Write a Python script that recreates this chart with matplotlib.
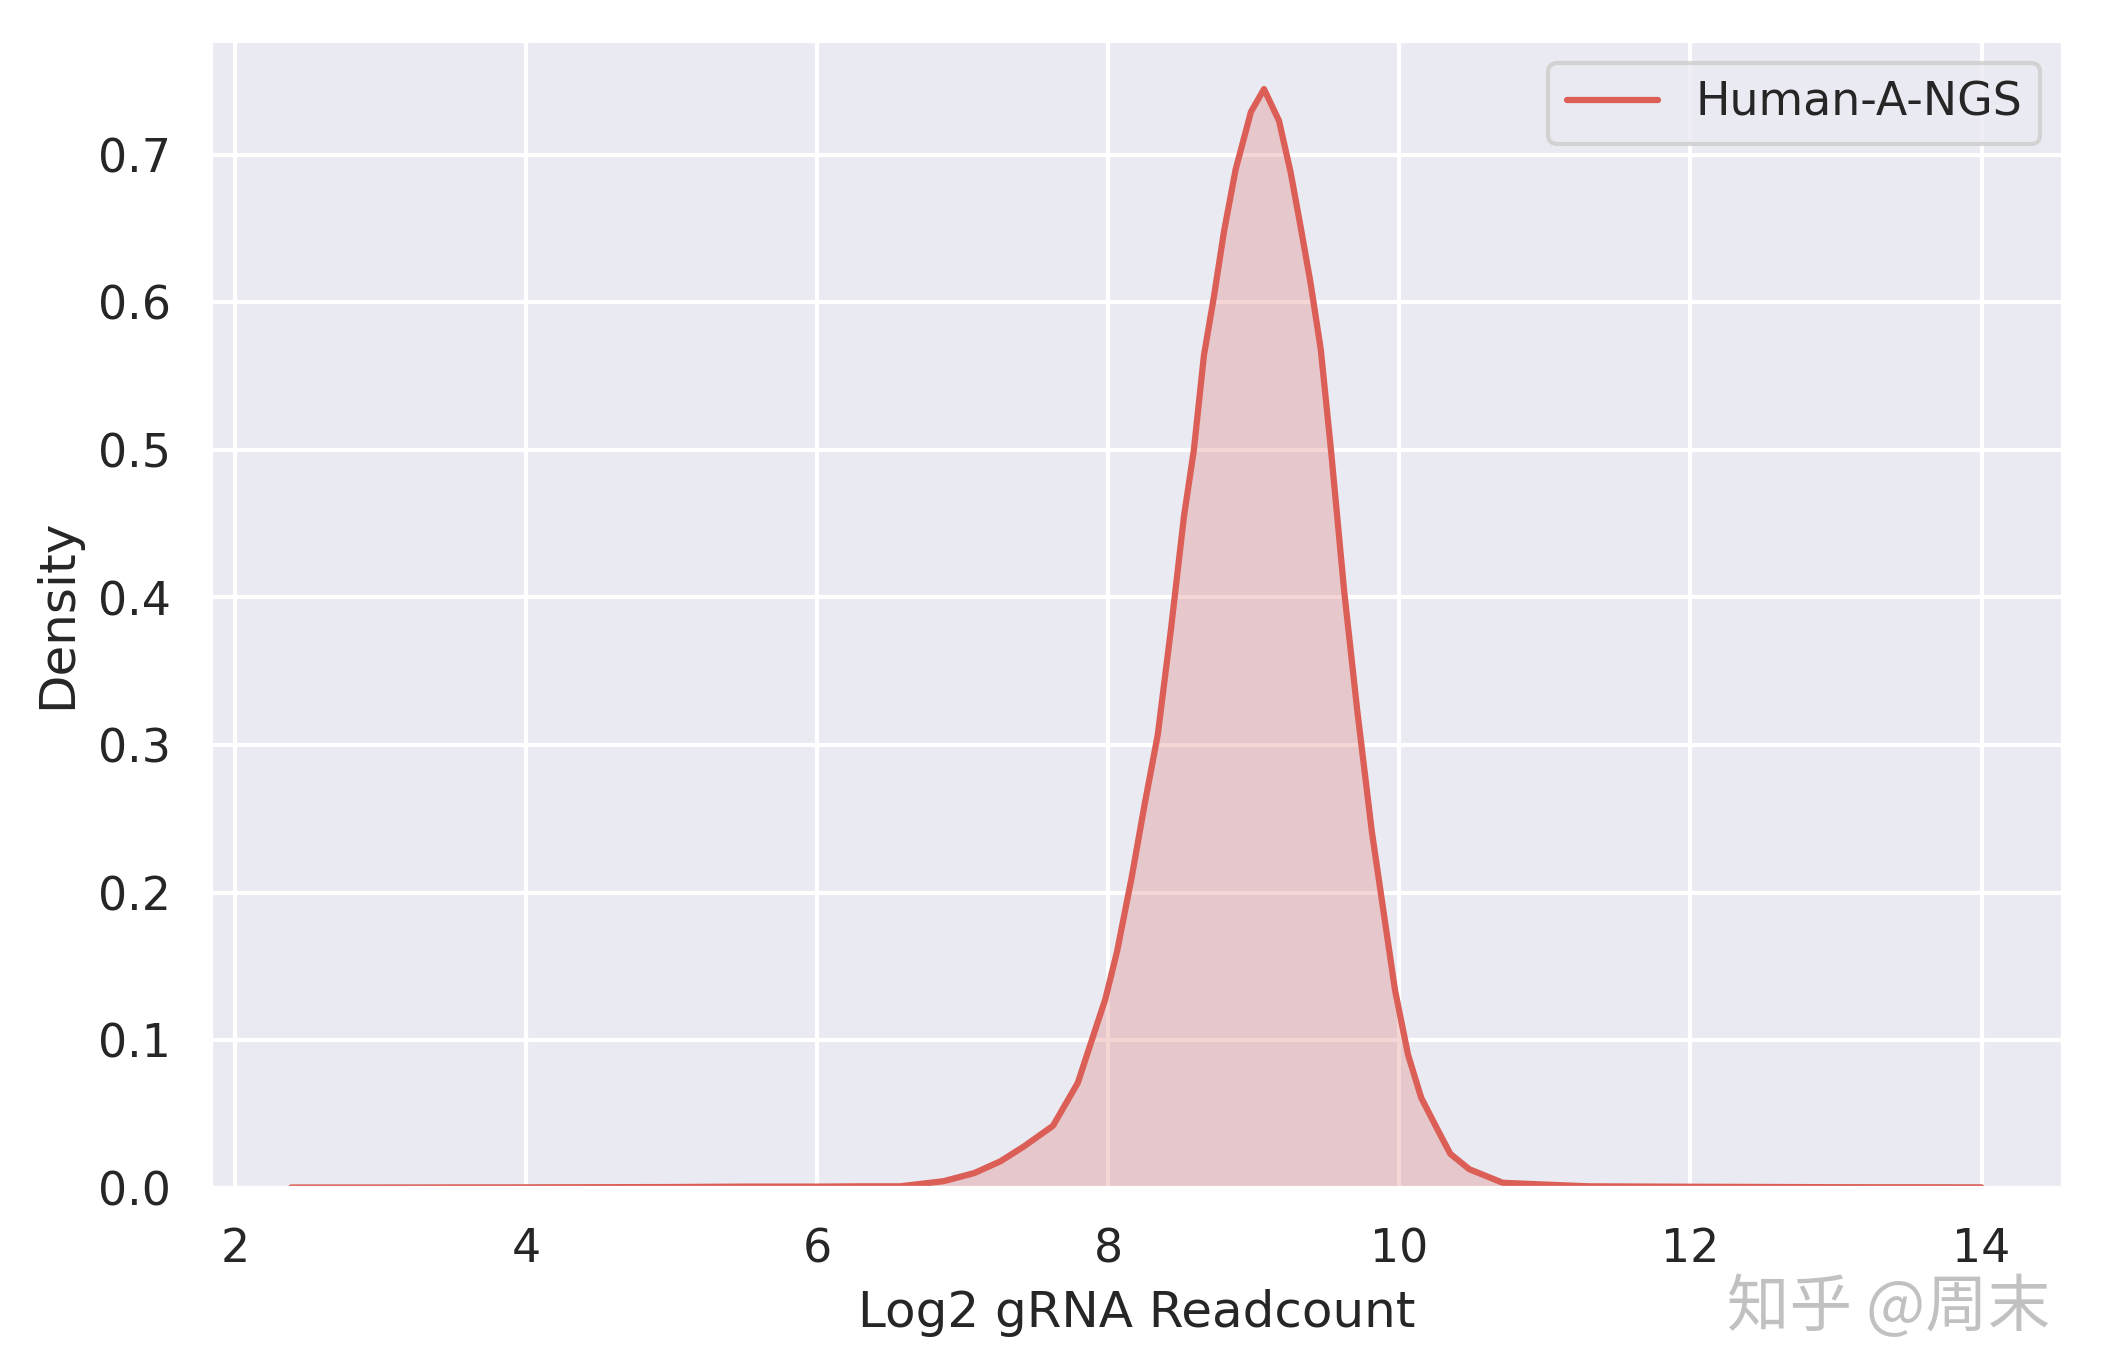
import numpy as np
import matplotlib
matplotlib.use("Agg")
import matplotlib.pyplot as plt
import seaborn as sns

# KDE curve (log2 readcount -> density)
log2_count = [2.385, 3.0, 4.0, 5.0, 5.5, 6.0, 6.32, 6.57, 6.87, 7.08, 7.26, 7.42, 7.62,
              7.79, 7.88, 7.98, 8.06, 8.16, 8.25, 8.34, 8.43, 8.52, 8.588, 8.657, 8.726,
              8.795, 8.875, 8.98, 9.07, 9.173, 9.253, 9.32, 9.39, 9.46, 9.53, 9.62, 9.71,
              9.81, 9.875, 9.97, 10.06, 10.15, 10.27, 10.35, 10.48, 10.71, 10.97, 11.3,
              12.0, 13.0, 14.0]
density = [0.0002, 0.0002, 0.0003, 0.0005, 0.0008, 0.0008, 0.001, 0.001, 0.0045, 0.010,
           0.018, 0.028, 0.042, 0.071, 0.098, 0.128, 0.16, 0.21, 0.26, 0.307, 0.378, 0.455,
           0.50, 0.564, 0.604, 0.648, 0.690, 0.729, 0.7445, 0.723, 0.688, 0.652, 0.613,
           0.568, 0.50, 0.405, 0.324, 0.242, 0.198, 0.134, 0.090, 0.061, 0.038, 0.023,
           0.0126, 0.0034, 0.0023, 0.001, 0.0007, 0.0004, 0.0003]
label = "Human-A-NGS"

sns.set_theme(style="darkgrid")
plt.rcParams['font.family'] = ['DejaVu Sans', 'Noto Sans CJK SC']

col = sns.color_palette("hls", 8)[0]
fig = plt.figure(figsize=(7.01, 4.567), dpi=300)
ax = fig.add_axes([0.100, 0.133, 0.881, 0.838])

ax.plot(log2_count, density, color=col, lw=1.5, label=label)
ax.fill_between(log2_count, density, color=col, alpha=0.25, lw=0)

ax.set_xlim(1.83, 14.56)
ax.set_ylim(0, 0.778)
ax.set_xticks(np.arange(2, 15, 2))
ax.set_yticks(np.arange(0, 0.75, 0.1))
ax.tick_params(labelsize=11)
ax.set_xlabel("Log2 gRNA Readcount", fontsize=12)
ax.set_ylabel("Density", fontsize=12)
ax.legend(loc="upper right", fontsize=11)

# watermark
fig.text(0.975, 0.045, "知乎 @周末", ha="right", va="center", fontsize=15,
         color="#bbbbbb", alpha=0.9, family=['Noto Sans CJK SC', 'DejaVu Sans'])

fig.savefig("out.png", dpi=300)
